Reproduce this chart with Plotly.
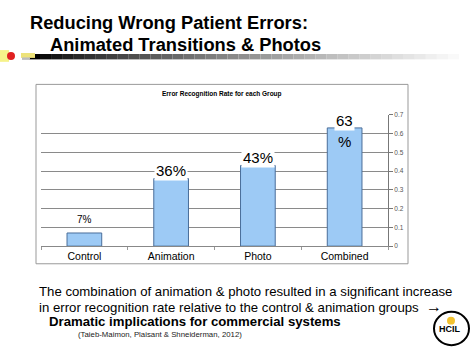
import plotly.graph_objects as go

# ---- data ----
categories = ["Control", "Animation", "Photo", "Combined"]
rates = [0.07, 0.36, 0.43, 0.63]
value_labels = ["7%", "36%", "43%", "63<br>%"]
y_ticks = [0, 0.1, 0.2, 0.3, 0.4, 0.5, 0.6, 0.7]

W, H = 474, 355
FONT = "Liberation Sans, Arial, sans-serif"

def px(x):
    return x / W

def py(y):
    return 1 - y / H

fig = go.Figure()
fig.add_trace(go.Bar(
    x=categories, y=rates, width=0.4,
    marker=dict(color="#9DCAF5", line=dict(color="#4A6E9A", width=1)),
    hoverinfo="skip",
))

fig.update_layout(
    width=W, height=H, margin=dict(l=0, r=0, t=0, b=0),
    paper_bgcolor="white", plot_bgcolor="white", showlegend=False,
    font=dict(family=FONT, color="black"),
    xaxis=dict(domain=[px(41), px(388)], showline=True, linecolor="#888", linewidth=1,
               ticks="outside", tickson="boundaries", ticklen=3, tickcolor="#999",
               tickfont=dict(size=10.5, color="black"), showgrid=False, fixedrange=True),
    yaxis=dict(domain=[py(247), py(113)], range=[0, 0.7], side="right",
               tickvals=y_ticks, ticktext=[("%g" % v) for v in y_ticks],
               showline=True, linecolor="#777", linewidth=1,
               ticks="outside", ticklen=4, tickcolor="#777",
               tickfont=dict(size=6.5, color="#555"),
               showgrid=True, gridcolor="#8a8a8a", gridwidth=1, zeroline=False, fixedrange=True),
)

def note(x, y, text, size, color="black", xanchor="left", bg=None):
    fig.add_annotation(xref="paper", yref="paper", x=x, y=y, text=text, showarrow=False,
                       xanchor=xanchor, yanchor="middle", bgcolor=bg,
                       font=dict(size=size, color=color))

# value labels
label_fonts = [10, 15, 15, 15]
for i, (c, v, lab) in enumerate(zip(categories, rates, value_labels)):
    lines = lab.split("<br>")
    if len(lines) == 1:
        fig.add_annotation(x=c, y=v, text=lab, showarrow=False, xanchor="center", yanchor="middle",
                           yshift=13 if i == 0 else 8, bgcolor="white",
                           font=dict(size=label_fonts[i], color="black"))
    else:
        fig.add_annotation(x=c, y=v, text=lines[0], showarrow=False, xanchor="center", yanchor="middle",
                           yshift=7, bgcolor="white", font=dict(size=label_fonts[i], color="black"))
        fig.add_annotation(x=c, y=v, text=lines[1], showarrow=False, xanchor="center", yanchor="middle",
                           yshift=-14, font=dict(size=label_fonts[i], color="black"))

# chart title
note(px(222), py(92), "<b>Error Recognition Rate for each Group</b>", 6.5, xanchor="center")

# chart frame
fig.add_shape(type="rect", xref="paper", yref="paper", x0=px(36), x1=px(408),
              y0=py(265), y1=py(82), line=dict(color="#999", width=1))

# slide title
note(px(28), py(19), "<b>Reducing Wrong Patient Errors:</b>", 18.3)
note(px(48), py(41), "<b>Animated Transitions &amp; Photos</b>", 18.3)

# gradient rule under title
n = 40
x_start, x_end = 29, 470
for k in range(n):
    t = k / (n - 1)
    g = int(min(255, 255 * (t ** 0.8)))
    fig.add_shape(type="rect", xref="paper", yref="paper",
                  x0=px(x_start + (x_end - x_start) * k / n),
                  x1=px(x_start + (x_end - x_start) * (k + 1) / n),
                  y0=py(56.5), y1=py(51), line=dict(width=0),
                  fillcolor="rgb(%d,%d,%d)" % (g, g, g))
# yellow/red decoration
fig.add_shape(type="rect", xref="paper", yref="paper", x0=0, x1=px(9), y0=py(59), y1=py(47),
              line=dict(width=0), fillcolor="#F6F28A")
fig.add_shape(type="rect", xref="paper", yref="paper", x0=px(21), x1=px(35), y0=py(55), y1=py(50),
              line=dict(width=0), fillcolor="#EDE27A")
fig.add_shape(type="rect", xref="paper", yref="paper", x0=px(22), x1=px(30), y0=py(57), y1=py(54.5),
              line=dict(width=0), fillcolor="#BBBBBB")
fig.add_shape(type="circle", xref="paper", yref="paper", x0=px(7), x1=px(15), y0=py(57), y1=py(49),
              line=dict(width=0), fillcolor="#E02020")

# body text
note(px(37), py(293), "The combination of animation &amp; photo resulted in a significant increase", 13.2)
note(px(37), py(309), "in error recognition rate relative to the control &amp; animation groups  "
     "<span style='font-size:16px'>\u2192</span>", 13.2)
note(px(47), py(324), "<b>Dramatic implications for commercial systems</b>", 13.2)
note(px(76), py(337), "(Taieb-Maimon, Plaisant &amp; Shneiderman, 2012)", 7.8, color="#222")

# HCIL logo
fig.add_shape(type="circle", xref="paper", yref="paper", x0=px(434), x1=px(469),
              y0=py(348), y1=py(314), line=dict(color="black", width=2), fillcolor="white")
fig.add_shape(type="circle", xref="paper", yref="paper", x0=px(447), x1=px(455),
              y0=py(327), y1=py(319), line=dict(width=0), fillcolor="#F2C230")
note(px(450), py(332), "<b>HCIL</b>", 9, xanchor="center")

fig.write_html("out.html")
